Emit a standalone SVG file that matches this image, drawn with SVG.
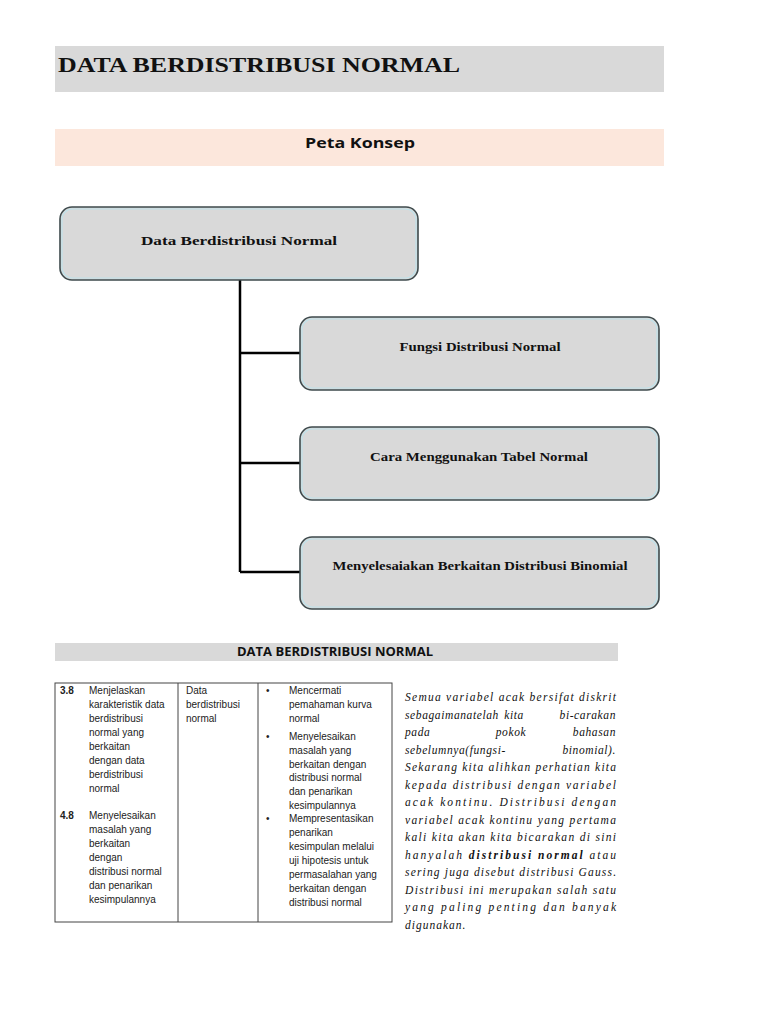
<svg xmlns="http://www.w3.org/2000/svg" width="768" height="1024" viewBox="0 0 768 1024">
<style>
.node-outer{fill:#d9d9d9;stroke:#3e4a4c;stroke-width:1.6}
.node-inner{fill:none;stroke:#bfe2ea;stroke-width:1.2}
.ntext{font-family:"Liberation Serif","Times New Roman",serif;font-weight:bold;font-size:13.5px;fill:#111;text-anchor:middle}
.tt{font-family:"Liberation Sans",Arial,sans-serif;font-size:10px;fill:#222}
.para{font-family:"Liberation Serif","Times New Roman",serif;font-style:italic;font-size:11.5px;fill:#111}
.conn{stroke:#000;stroke-width:2.5;fill:none}
</style>
<rect width="768" height="1024" fill="#fff"/>
<g id="title">
<rect x="55" y="46" width="609" height="46" fill="#d9d9d9"/>
<text x="58" y="72" font-family="'Liberation Serif','Times New Roman',serif" font-weight="bold" font-size="20" fill="#111" textLength="402" lengthAdjust="spacingAndGlyphs">DATA BERDISTRIBUSI NORMAL</text>
</g>
<g id="peta-konsep">
<rect x="55" y="129" width="609" height="37" fill="#fce7dc"/>
<text x="360" y="148" text-anchor="middle" font-family="'Open Sans','Liberation Sans',sans-serif" font-weight="bold" font-size="15" fill="#111" textLength="110" lengthAdjust="spacingAndGlyphs">Peta Konsep</text>
</g>
<g id="connectors">
<path class="conn" d="M240 280 V572 M240 353 H300 M240 463 H300 M240 572 H300"/>
</g>
<g id="node-root">
<rect class="node-outer" x="60" y="207" width="358" height="73" rx="12"/>
<rect class="node-inner" x="62" y="209" width="354" height="69" rx="10.5"/>
<text class="ntext" x="239" y="245" textLength="196" lengthAdjust="spacingAndGlyphs">Data Berdistribusi Normal</text>
</g>
<g id="node-fungsi">
<rect class="node-outer" x="300" y="317" width="359" height="73" rx="12"/>
<rect class="node-inner" x="302" y="319" width="355" height="69" rx="10.5"/>
<text class="ntext" x="480" y="351" textLength="161" lengthAdjust="spacingAndGlyphs">Fungsi Distribusi Normal</text>
</g>
<g id="node-cara">
<rect class="node-outer" x="300" y="427" width="359" height="73" rx="12"/>
<rect class="node-inner" x="302" y="429" width="355" height="69" rx="10.5"/>
<text class="ntext" x="479" y="461" textLength="218" lengthAdjust="spacingAndGlyphs">Cara Menggunakan Tabel Normal</text>
</g>
<g id="node-binomial">
<rect class="node-outer" x="300" y="537" width="359" height="72" rx="12"/>
<rect class="node-inner" x="302" y="539" width="355" height="68" rx="10.5"/>
<text class="ntext" x="480" y="570" textLength="295" lengthAdjust="spacingAndGlyphs">Menyelesaiakan Berkaitan Distribusi Binomial</text>
</g>
<g id="section-header">
<rect x="55" y="643" width="563" height="18" fill="#d9d9d9"/>
<text x="335" y="656" text-anchor="middle" font-family="'Open Sans','Liberation Sans',sans-serif" font-weight="bold" font-size="12" fill="#111" textLength="196" lengthAdjust="spacingAndGlyphs">DATA BERDISTRIBUSI NORMAL</text>
</g>
<g id="table">
<rect x="55" y="683" width="337" height="239" fill="none" stroke="#444" stroke-width="1"/>
<line x1="178" y1="683" x2="178" y2="922" stroke="#444" stroke-width="1"/>
<line x1="258" y1="683" x2="258" y2="922" stroke="#444" stroke-width="1"/>
<g class="tt">
<text x="60" y="694" font-weight="bold">3.8</text>
<text x="89" y="694">Menjelaskan</text>
<text x="89" y="708">karakteristik data</text>
<text x="89" y="722">berdistribusi</text>
<text x="89" y="736">normal yang</text>
<text x="89" y="750">berkaitan</text>
<text x="89" y="764">dengan data</text>
<text x="89" y="778">berdistribusi</text>
<text x="89" y="792">normal</text>
<text x="60" y="819" font-weight="bold">4.8</text>
<text x="89" y="819">Menyelesaikan</text>
<text x="89" y="833">masalah yang</text>
<text x="89" y="847">berkaitan</text>
<text x="89" y="861">dengan</text>
<text x="89" y="875">distribusi normal</text>
<text x="89" y="889">dan penarikan</text>
<text x="89" y="903">kesimpulannya</text>
<text x="186" y="694">Data</text>
<text x="186" y="708">berdistribusi</text>
<text x="186" y="722">normal</text>
<text x="266" y="694">•</text>
<text x="289" y="694">Mencermati</text>
<text x="289" y="708">pemahaman kurva</text>
<text x="289" y="722">normal</text>
<text x="266" y="740">•</text>
<text x="289" y="740">Menyelesaikan</text>
<text x="289" y="754">masalah yang</text>
<text x="289" y="768">berkaitan dengan</text>
<text x="289" y="781">distribusi normal</text>
<text x="289" y="795">dan penarikan</text>
<text x="289" y="809">kesimpulannya</text>
<text x="266" y="822">•</text>
<text x="289" y="822">Mempresentasikan</text>
<text x="289" y="836">penarikan</text>
<text x="289" y="850">kesimpulan melalui</text>
<text x="289" y="864">uji hipotesis untuk</text>
<text x="289" y="878">permasalahan yang</text>
<text x="289" y="892">berkaitan dengan</text>
<text x="289" y="906">distribusi normal</text>
</g>
</g>
<g id="paragraph" class="para">
<text x="405" y="701" textLength="211" lengthAdjust="spacing">Semua variabel acak bersifat diskrit</text>
<text x="405" y="718.5" letter-spacing="0.6">sebagaimanatelah</text>
<text x="514" y="718.5" text-anchor="middle" letter-spacing="0.6">kita</text>
<text x="616" y="718.5" text-anchor="end" letter-spacing="0.6">bi-carakan</text>
<text x="405" y="736" letter-spacing="0.6">pada</text>
<text x="511" y="736" text-anchor="middle" letter-spacing="0.6">pokok</text>
<text x="616" y="736" text-anchor="end" letter-spacing="0.6">bahasan</text>
<text x="405" y="753.5" letter-spacing="0.6">sebelumnya(fungsi-</text>
<text x="616" y="753.5" text-anchor="end" letter-spacing="0.6">binomial).</text>
<text x="405" y="771" textLength="211" lengthAdjust="spacing">Sekarang kita alihkan perhatian kita</text>
<text x="405" y="788.5" textLength="211" lengthAdjust="spacing">kepada distribusi dengan variabel</text>
<text x="405" y="806" textLength="211" lengthAdjust="spacing">acak kontinu. Distribusi dengan</text>
<text x="405" y="823.5" textLength="211" lengthAdjust="spacing">variabel acak kontinu yang pertama</text>
<text x="405" y="841" textLength="211" lengthAdjust="spacing">kali kita akan kita bicarakan di sini</text>
<text x="405" y="858.5" textLength="211" lengthAdjust="spacing">hanyalah <tspan font-weight="bold">distribusi normal</tspan> atau</text>
<text x="405" y="876" textLength="211" lengthAdjust="spacing">sering juga disebut distribusi Gauss.</text>
<text x="405" y="893.5" textLength="211" lengthAdjust="spacing">Distribusi ini merupakan salah satu</text>
<text x="405" y="911" textLength="211" lengthAdjust="spacing">yang paling penting dan banyak</text>
<text x="405" y="928.5" letter-spacing="1">digunakan.</text>
</g>
</svg>
